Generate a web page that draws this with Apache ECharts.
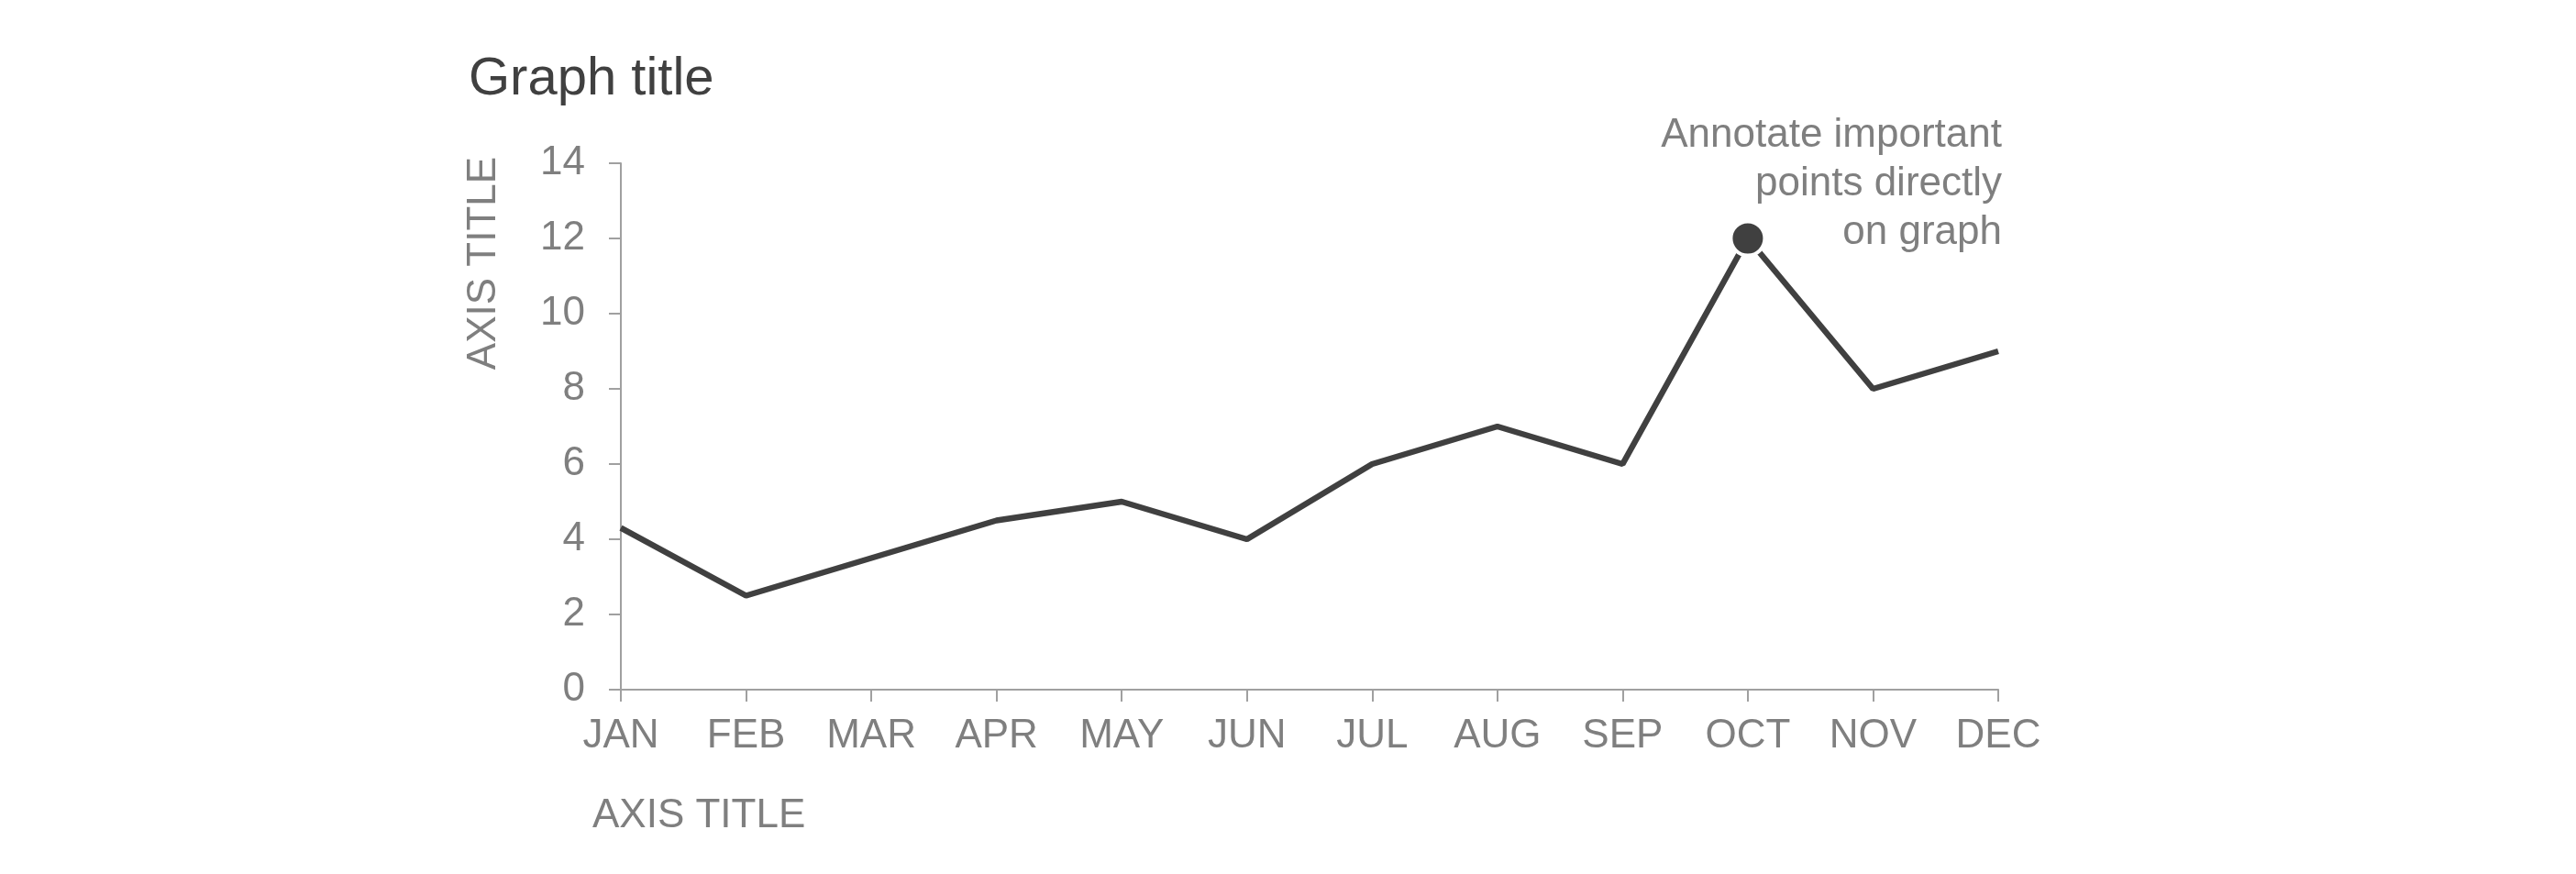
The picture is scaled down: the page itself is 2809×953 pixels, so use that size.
<!DOCTYPE html>
<html>
<head>
<meta charset="utf-8">
<script src="https://cdn.jsdelivr.net/npm/echarts@6/dist/echarts.min.js"></script>
<style>
html,body{margin:0;padding:0;background:#fff;}
#chart{width:2809px;height:953px;}
</style>
</head>
<body>
<div id="chart"></div>
<script>
const months = ['JAN','FEB','MAR','APR','MAY','JUN','JUL','AUG','SEP','OCT','NOV','DEC'];
const values = [4.3, 2.5, 3.5, 4.5, 5, 4, 6, 7, 6, 12, 8, 9];
const yTicks = { min: 0, max: 14, interval: 2 };
const peakIndex = 9;
const titleText = 'Graph title';
const xAxisTitle = 'AXIS TITLE';
const yAxisTitle = 'AXIS TITLE';
const annotationText = 'Annotate important\npoints directly\non graph';

const FONT = '"Liberation Sans", Arial, Helvetica, sans-serif';
const LABEL = '#7f7f7f';
const DARK = '#404040';
const AXIS = '#a0a0a0';

const chart = echarts.init(document.getElementById('chart'));
const seriesData = values.map((v, i) => i === peakIndex
  ? { value: v, symbol: 'circle', symbolSize: 37,
      itemStyle: { color: DARK, borderColor: '#ffffff', borderWidth: 4 } }
  : { value: v, symbol: 'none' });

chart.setOption({
  animation: false,
  backgroundColor: '#ffffff',
  textStyle: { fontFamily: FONT },
  grid: { left: 677, right: 630, top: 178, bottom: 201, containLabel: false },
  xAxis: {
    type: 'category',
    data: months,
    boundaryGap: false,
    axisLine: { show: true, lineStyle: { color: AXIS, width: 2 } },
    axisTick: { show: true, length: 13, lineStyle: { color: AXIS, width: 2 } },
    axisLabel: { color: LABEL, fontSize: 44, fontFamily: FONT, margin: 29 },
    splitLine: { show: false }
  },
  yAxis: {
    type: 'value',
    min: yTicks.min, max: yTicks.max, interval: yTicks.interval,
    axisLine: { show: true, lineStyle: { color: AXIS, width: 2 } },
    axisTick: { show: true, length: 13, lineStyle: { color: AXIS, width: 2 } },
    axisLabel: { color: LABEL, fontSize: 44, fontFamily: FONT, margin: 39 },
    splitLine: { show: false }
  },
  series: [{
    type: 'line',
    data: seriesData,
    symbol: 'none',
    showSymbol: true,
    lineStyle: { color: DARK, width: 6.5 },
    itemStyle: { color: DARK },
    z: 3
  }],
  graphic: [
    { type: 'text', x: 511, y: 87, style: { text: titleText, font: 'normal 58px ' + FONT, fill: DARK, textAlign: 'left', textVerticalAlign: 'middle' } },
    { type: 'text', x: 646, y: 890, style: { text: xAxisTitle, font: 'normal 44px ' + FONT, fill: LABEL, textAlign: 'left', textVerticalAlign: 'middle' } },
    { type: 'text', x: 528, y: 287, rotation: Math.PI / 2, style: { text: yAxisTitle, font: 'normal 44px ' + FONT, fill: LABEL, textAlign: 'center', textVerticalAlign: 'middle' } },
    { type: 'text', x: 2183, y: 121, style: { text: annotationText, font: 'normal 44px ' + FONT, fill: LABEL, textAlign: 'right', textVerticalAlign: 'top', lineHeight: 53 } }
  ]
});
</script>
</body>
</html>
